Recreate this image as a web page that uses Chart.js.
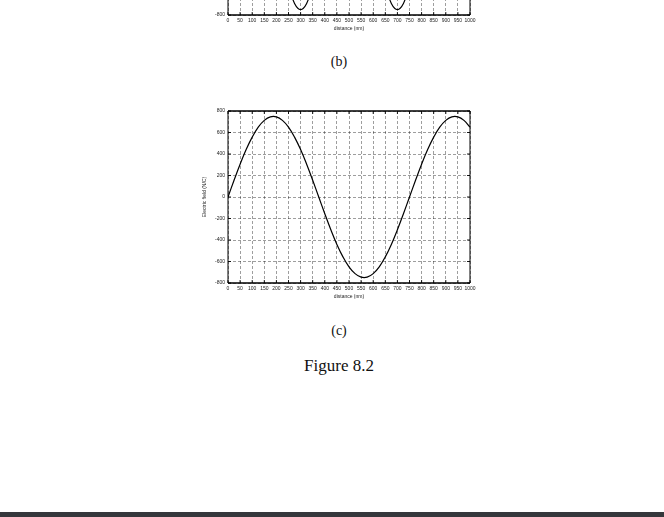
<!DOCTYPE html>
<html>
<head>
<meta charset="utf-8">
<script src="https://cdn.jsdelivr.net/npm/chart.js@4.4.0/dist/chart.umd.min.js"></script>
<style>
  html, body { margin: 0; padding: 0; background: #fff; }
  body { width: 664px; height: 517px; position: relative; overflow: hidden; }
  .plot { position: absolute; left: 190px; width: 290px; height: 200px; }
  .cap { position: absolute; left: 339px; transform: translateX(-50%); font-family: "Liberation Serif", serif; color: #111; line-height: 1; white-space: nowrap; }
  .sub { font-size: 14px; }
  .fig { font-size: 17px; }
  #bar { position: absolute; left: 0; top: 512px; width: 664px; height: 5px; background: #35373b; }
</style>
</head>
<body>

<div class="plot" style="top:-163px"><canvas id="chartB"></canvas></div>
<div class="cap sub" style="top:55px">(b)</div>

<div class="plot" style="top:105px"><canvas id="chartC"></canvas></div>
<div class="cap sub" style="top:324px">(c)</div>

<div class="cap fig" style="top:357px">Figure 8.2</div>
<div id="bar"></div>

<script>
// distance samples (nm)
const distances = [0, 25, 50, 75, 100, 125, 150, 175, 200, 225, 250, 275, 300, 325, 350, 375, 400,
  425, 450, 475, 500, 525, 550, 575, 600, 625, 650, 675, 700, 725, 750, 775, 800, 825, 850, 875,
  900, 925, 950, 975, 1000];

// field (N/C) of panel (b), only the troughs near 300 and 700 are on the page
const fieldB = [0, 287, 530, 693, 750, 693, 530, 287, 0, -287, -530, -693, -750, -693, -530, -287, 0,
  287, 530, 693, 750, 693, 530, 287, 0, -287, -530, -693, -750, -693, -530, -287, 0,
  287, 530, 693, 750, 693, 530, 287, 0];

// field (N/C) of panel (c)
const fieldC = [0, 156, 305, 441, 557, 650, 713, 746, 746, 713, 650, 557, 441, 305, 156, 0, -156,
  -305, -441, -557, -650, -713, -746, -746, -713, -650, -557, -441, -305, -156, 0, 156, 305, 441,
  557, 650, 713, 746, 746, 713, 650];

const xTickValues = [0, 50, 100, 150, 200, 250, 300, 350, 400, 450, 500, 550, 600, 650, 700, 750,
  800, 850, 900, 950, 1000];
const yTickValues = [-800, -600, -400, -200, 0, 200, 400, 600, 800];

const tickFont = { family: "'Liberation Sans', Arial, sans-serif", size: 5 };

// gnuplot style frame with inward ticks on all four sides
const framePlugin = {
  id: "frame",
  afterDraw(chart) {
    const ctx = chart.ctx;
    const a = chart.chartArea;
    const xs = chart.scales.x, ys = chart.scales.y;
    ctx.save();
    ctx.strokeStyle = "#000";
    ctx.lineWidth = 0.9;
    ctx.beginPath();
    xTickValues.forEach(v => {
      const px = xs.getPixelForValue(v);
      ctx.moveTo(px, a.bottom); ctx.lineTo(px, a.bottom - 3);
      ctx.moveTo(px, a.top); ctx.lineTo(px, a.top + 3);
    });
    yTickValues.forEach(v => {
      const py = ys.getPixelForValue(v);
      ctx.moveTo(a.left, py); ctx.lineTo(a.left + 3, py);
      ctx.moveTo(a.right, py); ctx.lineTo(a.right - 3, py);
    });
    ctx.stroke();
    ctx.lineWidth = 1;
    ctx.beginPath();
    ctx.moveTo(a.left, a.top); ctx.lineTo(a.left, a.bottom);
    ctx.moveTo(a.right, a.top); ctx.lineTo(a.right, a.bottom);
    ctx.stroke();
    ctx.lineWidth = 1.6;
    ctx.beginPath();
    ctx.moveTo(a.left, a.top); ctx.lineTo(a.right, a.top);
    ctx.moveTo(a.left, a.bottom); ctx.lineTo(a.right, a.bottom);
    ctx.stroke();
    ctx.restore();
  }
};

function makeChart(id, values) {
  return new Chart(document.getElementById(id), {
    type: "line",
    data: {
      datasets: [{
        data: distances.map((d, i) => ({ x: d, y: values[i] })),
        borderColor: "#000",
        borderWidth: 1.2,
        pointRadius: 0,
        tension: 0.4,
        fill: false
      }]
    },
    options: {
      responsive: true,
      maintainAspectRatio: false,
      animation: false,
      layout: { padding: { top: 6, right: 10, left: 0, bottom: 0 } },
      plugins: { legend: { display: false }, tooltip: { enabled: false } },
      scales: {
        x: {
          type: "linear",
          min: 0,
          max: 1000,
          afterBuildTicks: s => { s.ticks = xTickValues.map(v => ({ value: v })); },
          afterFit: s => { s.height = 22; },
          ticks: { font: tickFont, color: "#222", padding: 3, maxRotation: 0, autoSkip: false, callback: v => String(v) },
          grid: { color: "rgba(0,0,0,0.55)", lineWidth: 0.7, drawTicks: false },
          border: { display: false, dash: [3, 2] },
          title: { display: true, text: "distance (nm)", font: tickFont, color: "#222", padding: { top: 0, bottom: 5 } }
        },
        y: {
          min: -800,
          max: 800,
          afterBuildTicks: s => { s.ticks = yTickValues.map(v => ({ value: v })); },
          afterFit: s => { s.width = 38; },
          ticks: { font: tickFont, color: "#222", padding: 3, callback: v => String(v) },
          grid: { color: "rgba(0,0,0,0.55)", lineWidth: 0.7, drawTicks: false },
          border: { display: false, dash: [3, 2] },
          title: { display: true, text: "Electric field (N/C)", font: tickFont, color: "#222", padding: { top: 12, bottom: 0 } }
        }
      }
    },
    plugins: [framePlugin]
  });
}

makeChart("chartB", fieldB);
makeChart("chartC", fieldC);
</script>
</body>
</html>
